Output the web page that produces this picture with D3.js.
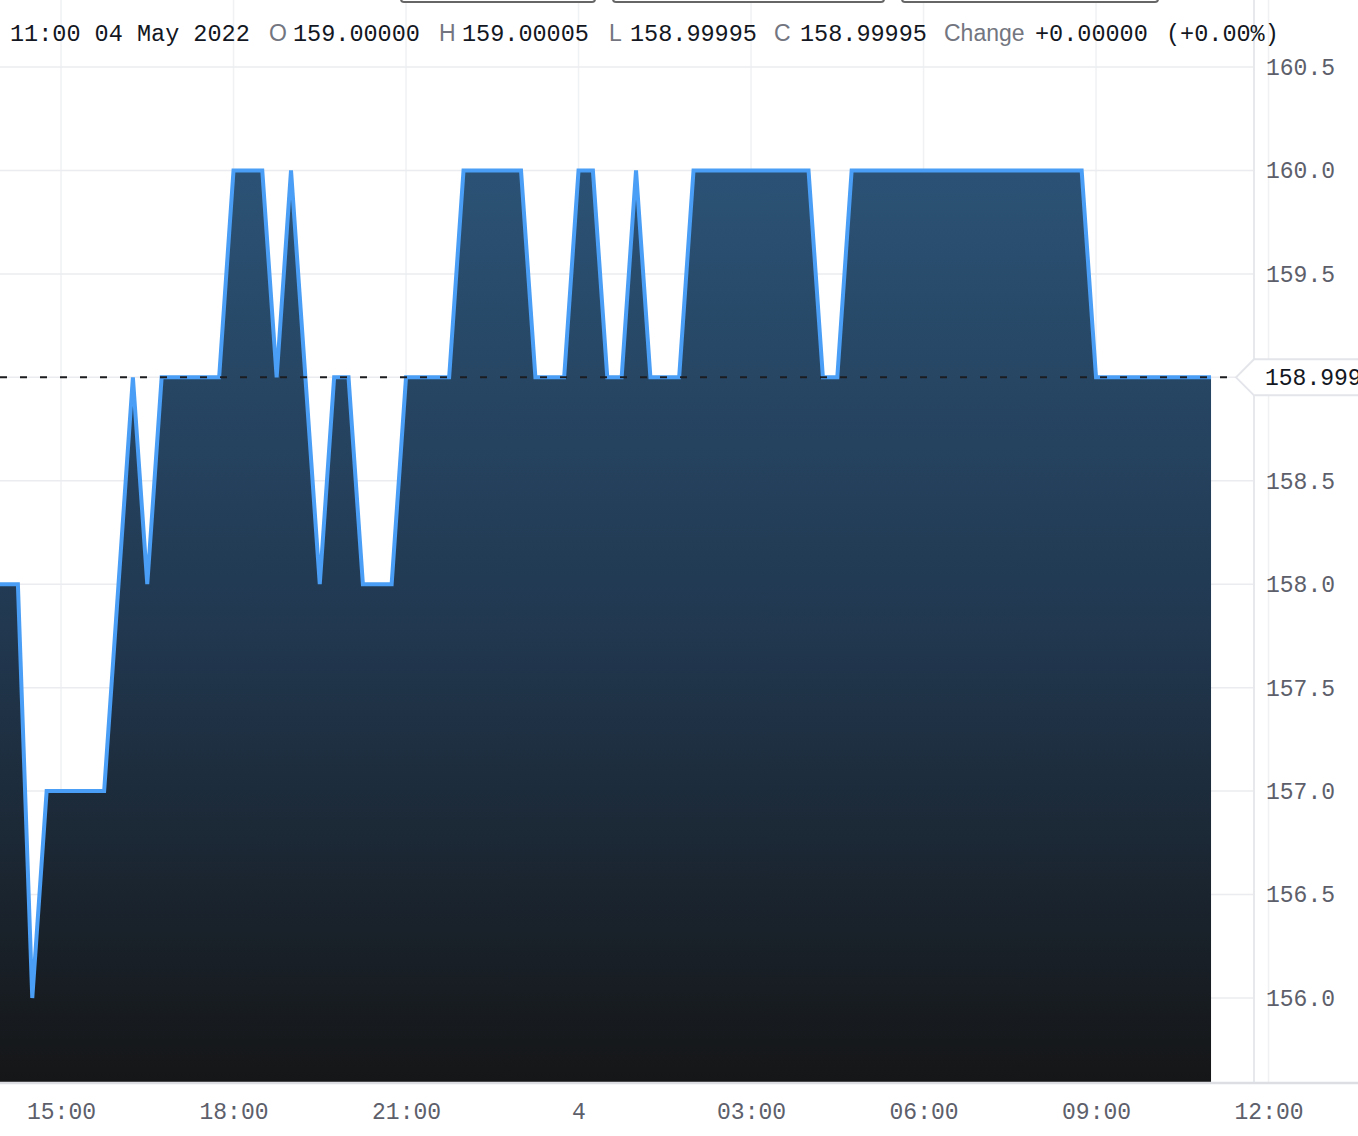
<!DOCTYPE html>
<html>
<head>
<meta charset="utf-8">
<script src="https://cdn.jsdelivr.net/npm/d3@7"></script>
<style>
  body { margin: 0; background: #fff; }
  svg { display: block; }
  .mono { font-family: "Liberation Mono", "DejaVu Sans Mono", monospace; }
  .lbl { font-family: "Liberation Sans", Arial, sans-serif; fill: #737680; }
</style>
</head>
<body>
<svg width="1358" height="1136"></svg>
<script>
// 15 minute closes, first one at 13:45 on 3 May 2022
const startTime = new Date(2022, 4, 3, 13, 45);
const closes = [
  158, 158, 158, 156, 157, 157, 157, 157, 157, 158,
  159, 158, 159, 159, 159, 159, 159, 160, 160, 160,
  159, 160, 159, 158, 159, 159, 158, 158, 158, 159,
  159, 159, 159, 160, 160, 160, 160, 160, 159, 159,
  159, 160, 160, 159, 159, 160, 159, 159, 159, 160,
  160, 160, 160, 160, 160, 160, 160, 160, 159, 159,
  160, 160, 160, 160, 160, 160, 160, 160, 160, 160,
  160, 160, 160, 160, 160, 160, 160, 159, 159, 159,
  159, 159, 159, 159, 159, 159
];
const lastPrice = 158.99995;

const xTicks = [
  new Date(2022, 4, 3, 15), new Date(2022, 4, 3, 18), new Date(2022, 4, 3, 21),
  new Date(2022, 4, 4, 0), new Date(2022, 4, 4, 3), new Date(2022, 4, 4, 6),
  new Date(2022, 4, 4, 9), new Date(2022, 4, 4, 12)
];
const xTickLabels = ["15:00", "18:00", "21:00", "4", "03:00", "06:00", "09:00", "12:00"];
const yTicks = [156.0, 156.5, 157.0, 157.5, 158.0, 158.5, 159.0, 159.5, 160.0, 160.5];

const headerParts = [
  { t: "11:00 04 May 2022", x: 10, cls: "mono", fill: "#131722" },
  { t: "O", x: 269, cls: "lbl" },
  { t: "159.00000", x: 293, cls: "mono", fill: "#131722" },
  { t: "H", x: 439, cls: "lbl" },
  { t: "159.00005", x: 462, cls: "mono", fill: "#131722" },
  { t: "L", x: 609, cls: "lbl" },
  { t: "158.99995", x: 630, cls: "mono", fill: "#131722" },
  { t: "C", x: 774, cls: "lbl" },
  { t: "158.99995", x: 800, cls: "mono", fill: "#131722" },
  { t: "Change", x: 944, cls: "lbl" },
  { t: "+0.00000", x: 1035, cls: "mono", fill: "#131722" },
  { t: "(+0.00%)", x: 1166, cls: "mono", fill: "#131722" }
];
const topButtons = [[401, 595], [613, 884], [902, 1158]];

let data = closes.map((v, i) => ({ date: d3.timeMinute.offset(startTime, 15 * i), value: v }));

let svg = d3.select("svg"),
  width = +svg.attr("width"),
  plotW = 1254,
  plotH = 1082;

let x = d3.scaleTime()
  .domain([new Date(2022, 4, 3, 13, 56, 20), new Date(2022, 4, 4, 11, 44, 50)])
  .range([0, plotW]);

let y = d3.scaleLinear()
  .domain([156, 160.5])
  .range([998, 67]);

let defs = svg.append("defs");
let grad = defs.append("linearGradient")
  .attr("id", "fillGrad")
  .attr("gradientUnits", "userSpaceOnUse")
  .attr("x1", 0).attr("x2", 0)
  .attr("y1", y(160)).attr("y2", plotH);
grad.append("stop").attr("offset", "0%").attr("stop-color", "#2b5275");
grad.append("stop").attr("offset", "50%").attr("stop-color", "#213850");
grad.append("stop").attr("offset", "100%").attr("stop-color", "#151617");

defs.append("clipPath").attr("id", "plotClip")
  .append("rect").attr("x", 0).attr("y", 0).attr("width", plotW).attr("height", plotH);

// grid
let grid = svg.append("g").attr("class", "grid");
grid.selectAll("line.v")
  .data(xTicks)
  .enter().append("line")
  .attr("x1", d => x(d)).attr("x2", d => x(d))
  .attr("y1", 0).attr("y2", plotH)
  .attr("stroke", "#f0f1f3")
  .attr("stroke-width", 1.5);
grid.selectAll("line.h")
  .data(yTicks)
  .enter().append("line")
  .attr("x1", 0).attr("x2", plotW)
  .attr("y1", d => y(d)).attr("y2", d => y(d))
  .attr("stroke", "#ebecef")
  .attr("stroke-width", 1.5);

// area + line
let plot = svg.append("g").attr("clip-path", "url(#plotClip)");

let area = d3.area()
  .x(d => x(d.date))
  .y0(plotH)
  .y1(d => y(d.value));

let line = d3.line()
  .x(d => x(d.date))
  .y(d => y(d.value));

plot.append("path")
  .datum(data)
  .attr("d", area)
  .attr("fill", "url(#fillGrad)");

plot.append("path")
  .datum(data)
  .attr("d", line)
  .attr("fill", "none")
  .attr("stroke", "#4a9ef5")
  .attr("stroke-width", 4);

// last price line
svg.append("line")
  .attr("x1", 0).attr("x2", 1236)
  .attr("y1", y(lastPrice)).attr("y2", y(lastPrice))
  .attr("stroke", "#1c1d21")
  .attr("stroke-width", 2)
  .attr("stroke-dasharray", "7,13");

// axes borders
svg.append("line")
  .attr("x1", plotW).attr("x2", plotW)
  .attr("y1", 0).attr("y2", plotH)
  .attr("stroke", "#e6e8ec").attr("stroke-width", 2);
svg.append("line")
  .attr("x1", 0).attr("x2", width)
  .attr("y1", plotH + 1).attr("y2", plotH + 1)
  .attr("stroke", "#dcdee3").attr("stroke-width", 2.5);

// right axis, the 159.0 label sits under the last price label
let yAxis = d3.axisRight(y)
  .tickValues(yTicks.filter(d => d != 159))
  .tickSize(0)
  .tickPadding(12)
  .tickFormat(d3.format(".1f"));

let yg = svg.append("g")
  .attr("transform", "translate(" + plotW + ",0)")
  .call(yAxis);
yg.select(".domain").remove();
yg.selectAll("text")
  .attr("class", "mono")
  .attr("font-size", 23)
  .attr("fill", "#5d606b");

// bottom axis
let xAxis = d3.axisBottom(x)
  .tickValues(xTicks)
  .tickSize(0)
  .tickPadding(21)
  .tickFormat((d, i) => xTickLabels[i]);

let xg = svg.append("g")
  .attr("transform", "translate(0," + plotH + ")")
  .call(xAxis);
xg.select(".domain").remove();
xg.selectAll("text")
  .attr("class", "mono")
  .attr("font-size", 23)
  .attr("fill", "#5d606b");

// price label box
let py = y(lastPrice);
svg.append("path")
  .attr("d", "M1236," + py + " L1254," + (py - 18) + " L1370," + (py - 18) + " L1370," + (py + 18) + " L1254," + (py + 18) + " Z")
  .attr("fill", "#fff")
  .attr("stroke", "#e3e5ea")
  .attr("stroke-width", 2);
svg.append("text")
  .attr("class", "mono")
  .attr("x", 1265)
  .attr("y", py)
  .attr("dy", "0.35em")
  .attr("font-size", 23)
  .attr("fill", "#131722")
  .text(d3.format(".5f")(lastPrice));

// header
svg.selectAll("rect.btn")
  .data(topButtons)
  .enter().append("rect")
  .attr("x", d => d[0])
  .attr("y", -20)
  .attr("width", d => d[1] - d[0])
  .attr("height", 22)
  .attr("rx", 3)
  .attr("fill", "#fff")
  .attr("stroke", "#666")
  .attr("stroke-width", 2);

svg.append("g").selectAll("text")
  .data(headerParts)
  .enter().append("text")
  .attr("class", d => d.cls)
  .attr("x", d => d.x)
  .attr("y", 41)
  .attr("font-size", d => d.cls == "mono" ? 23.5 : 23)
  .attr("fill", d => d.fill || null)
  .text(d => d.t);
</script>
</body>
</html>
